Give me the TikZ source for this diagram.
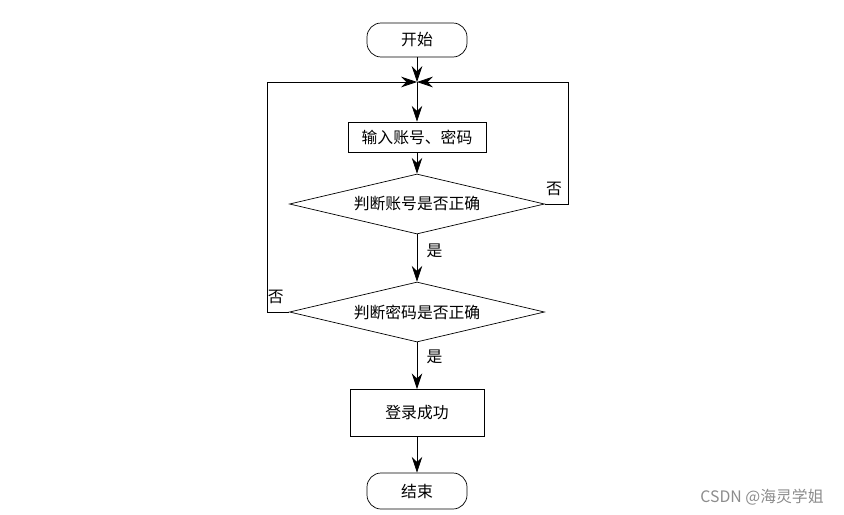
\documentclass[tikz,border=0pt]{standalone}
\usepackage{fontspec}
\newfontfamily\cjk{Noto Sans CJK SC}
\usetikzlibrary{shapes.geometric}
\usetikzlibrary{arrows.meta}
\tikzset{
  term/.style={draw, rounded corners=8pt, minimum width=100*0.02cm, minimum height=34*0.02cm, font=\cjk\small},
  proc/.style={draw, minimum width=#1, font=\cjk\small},
  decide/.style={draw, diamond, aspect=4.25, minimum width=255*0.02cm, minimum height=60*0.02cm, inner sep=0pt, font=\cjk\small},
  flow/.style={-{Stealth[length=9pt,width=6pt]}, thin},
  lbl/.style={font=\cjk\small}
}
\begin{document}
\begin{tikzpicture}[x=0.02cm, y=-0.02cm]
\useasboundingbox (0,0) rectangle (844,514);

% nodes
\node[term] (start) at (417,40) {开始};
\coordinate (merge) at (417,82);
\node[proc=138*0.02cm, minimum height=30*0.02cm] (input) at (417,137) {输入账号、密码};
\node[decide] (chkname) at (417,204) {判断账号是否正确};
\node[decide] (chkpwd) at (417,312) {判断密码是否正确};
\node[proc=134*0.02cm, minimum height=47*0.02cm] (ok) at (417,413) {登录成功};
\node[term, minimum height=36*0.02cm] (stop) at (417,491) {结束};

% main flow
\draw[flow] (start) -- (merge);
\draw[flow] (merge) -- (input);
\draw[flow] (input) -- (chkname);
\draw[flow] (chkname) -- node[lbl, right=2pt, pos=0.35] {是} (chkpwd);
\draw[flow] (chkpwd) -- node[lbl, right=2pt, pos=0.3] {是} (ok);
\draw[flow] (ok) -- (stop);

% loops back
\draw[flow] (chkname.east) -- node[lbl, above=1pt, pos=0.4] {否} (568,204) -- (568,82) -- (merge);
\draw[flow] (chkpwd.west) -- node[lbl, above=1pt, pos=0.6] {否} (267,312) -- (267,82) -- (merge);

% watermark
\node[font=\cjk\small, text=black!45] (mark) at (762,497) {CSDN @海灵学姐};
\end{tikzpicture}
\end{document}
